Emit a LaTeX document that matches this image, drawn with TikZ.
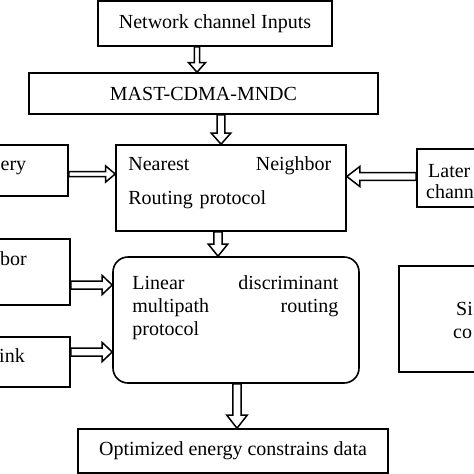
\documentclass[tikz,border=0pt]{standalone}
\usepackage{fontspec}
\setmainfont{Liberation Serif}
\usetikzlibrary{calc}
\tikzset{
  box/.style={draw, line width=1.6pt, inner sep=0pt, font=\fontsize{20}{24}\selectfont},
  txt/.style={inner sep=0pt, font=\fontsize{20}{24}\selectfont},
  arrsw/.code={\def\hsw{#1}},
  arrhw/.code={\def\hhw{#1}},
  arrhl/.code={\def\hhl{#1}},
  hollow/.style={draw, line width=1.5pt, line join=miter,
    to path={let \p1=(\tikztostart), \p2=(\tikztotarget),
      \n1={veclen(\x2-\x1,\y2-\y1)},
      \n2={(\x2-\x1)/\n1}, \n3={(\y2-\y1)/\n1} in
      ({\x1-\hsw*(\n3)},{\y1+\hsw*(\n2)})
      -- ({\x2-\hhl*(\n2)-\hsw*(\n3)},{\y2-\hhl*(\n3)+\hsw*(\n2)})
      -- ({\x2-\hhl*(\n2)-\hhw*(\n3)},{\y2-\hhl*(\n3)+\hhw*(\n2)})
      -- (\p2)
      -- ({\x2-\hhl*(\n2)+\hhw*(\n3)},{\y2-\hhl*(\n3)-\hhw*(\n2)})
      -- ({\x2-\hhl*(\n2)+\hsw*(\n3)},{\y2-\hhl*(\n3)-\hsw*(\n2)})
      -- ({\x1+\hsw*(\n3)},{\y1-\hsw*(\n2)}) -- cycle}}
}
\begin{document}
\begin{tikzpicture}[x=1pt,y=-1pt]
\path[use as bounding box, clip] (0,0) rectangle (474,474);
\fill[white] (0,0) rectangle (474,474);

% main column
\node[box, minimum width=234pt, minimum height=45pt] (inp) at (215,23.5) {Network channel Inputs};
\node[box, minimum width=349pt, minimum height=41pt] (mast) at (203.5,93.5) {MAST-CDMA-MNDC};
\node[box, minimum width=230pt, minimum height=86pt] (nn) at (231,188) {};
\node[txt, anchor=north west, text width=203pt, align=left] (nnt) at ([xshift=13pt,yshift=-12.5pt]nn.north west)
  {Nearest\hfill Neighbor\\[10pt]Routing protocol};
\node[box, rounded corners=15pt, minimum width=246pt, minimum height=126pt] (lda) at (236,320) {};
\node[txt, font=\fontsize{20}{23}\selectfont, anchor=north west, text width=206pt, align=left] (ldat) at ([xshift=20pt,yshift=-19pt]lda.north west)
  {Linear\hfill discriminant\\multipath\hfill routing\\protocol};
\node[box, minimum width=310pt, minimum height=44pt] (opt) at (233,451) {Optimized energy constrains data};

% left boxes (cut by the frame)
\node[box, minimum width=128pt, minimum height=51pt] (bat) at (4,170.5) {};
\node[txt, anchor=base west] (batt) at (0.5,170) {ery};
\node[box, minimum width=130pt, minimum height=66pt] (nb) at (5,272) {};
\node[txt, anchor=base east] (nbt) at (27,265) {bor};
\node[box, minimum width=130pt, minimum height=50pt] (lk) at (5,362) {};
\node[txt, anchor=base east] (lkt) at (25,362) {ink};

% right boxes (cut by the frame)
\node[box, minimum width=123pt, minimum height=58pt] (lat) at (478.5,178) {};
\node[txt, anchor=base west] (latt1) at (428,177) {Later};
\node[txt, anchor=base west] (latt2) at (426,198) {chann};
\node[box, minimum width=141pt, minimum height=106pt] (si) at (469.5,319) {};
\node[txt, anchor=base west] (sit1) at (456,315) {Si};
\node[txt, anchor=base west] (sit2) at (453,338) {co};

% hollow arrows
\draw[hollow, arrsw=2.6, arrhw=8.4, arrhl=9.5] ([xshift=-18pt]inp.south) to ([xshift=-18pt]inp.south |- mast.north);
\draw[hollow, arrsw=3.8, arrhw=9.7, arrhl=11] ([xshift=-10pt]nn.north |- mast.south) to ([xshift=-10pt]nn.north);
\draw[hollow, arrsw=4.2, arrhw=9.7, arrhl=12] ([xshift=-13pt]nn.south) to ([xshift=-13pt]nn.south |- lda.north);
\draw[hollow, arrsw=4.2, arrhw=10.2, arrhl=13] ([xshift=1pt]lda.south) to ([xshift=1pt]lda.south |- opt.north);
\draw[hollow, arrsw=2.5, arrhw=8, arrhl=9.5] ([yshift=-3.5pt]bat.east) to ([yshift=-3.5pt]bat.east -| nn.west);
\draw[hollow, arrsw=3.8, arrhw=10, arrhl=13] ([yshift=1.5pt]lat.west) to ([yshift=1.5pt]lat.west -| nn.east);
\draw[hollow, arrsw=4, arrhw=9.5, arrhl=10] ([yshift=-13pt]nb.east) to ([yshift=-13pt]nb.east -| lda.west);
\draw[hollow, arrsw=4, arrhw=9.5, arrhl=10] ([yshift=10pt]lk.east) to ([yshift=10pt]lk.east -| lda.west);
\end{tikzpicture}
\end{document}
